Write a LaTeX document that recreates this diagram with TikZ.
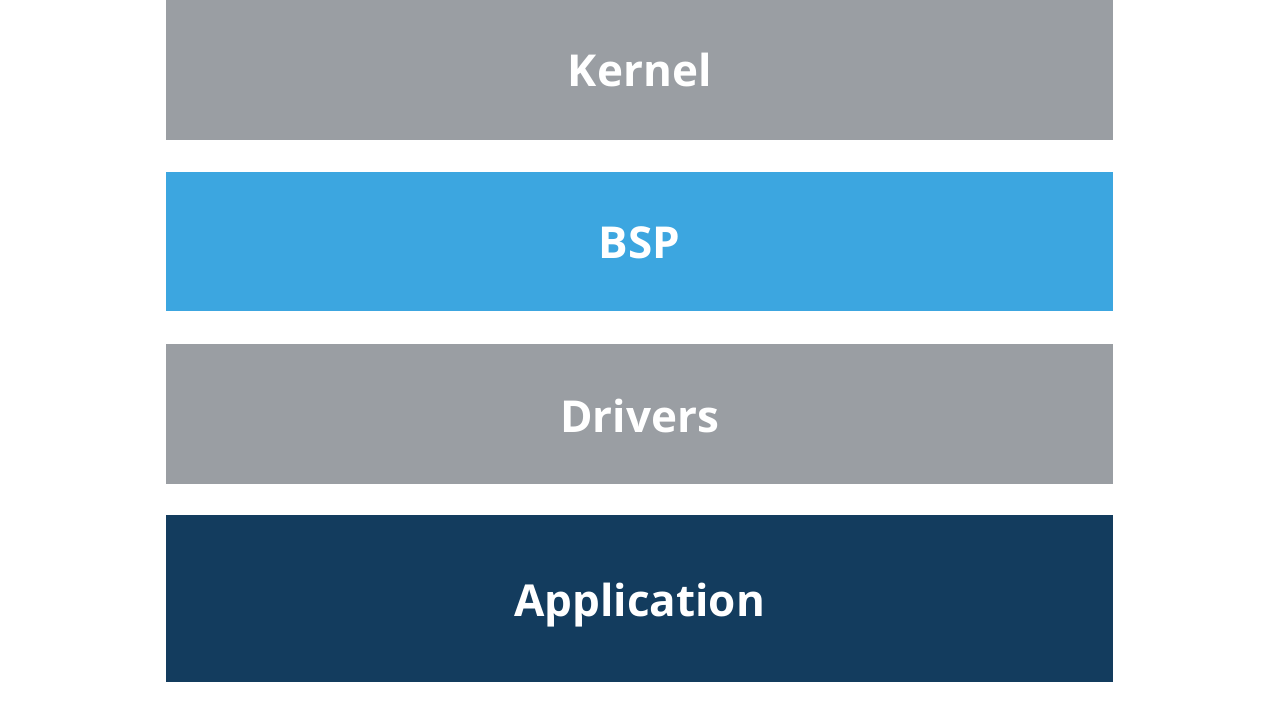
\documentclass[tikz,border=0pt]{standalone}
\usepackage{fontspec}
\setmainfont{Open Sans}
\definecolor{layergray}{HTML}{9A9EA3}
\definecolor{layerblue}{HTML}{3CA6E0}
\definecolor{layernavy}{HTML}{133C5E}
\begin{document}
\begin{tikzpicture}[x=1pt,y=-1pt,
  layer/.style={draw=none,anchor=north west,minimum width=947pt,inner sep=0pt},
  layertext/.style={text=white,inner sep=0pt,font=\bfseries\fontsize{44}{52}\selectfont}]
\useasboundingbox[fill=white] (0,0) rectangle (1280,720);
\node[layer,fill=layergray,minimum height=140pt] (kernel) at (166,0) {};
\node[layer,fill=layerblue,minimum height=139pt] (bsp) at (166,172) {};
\node[layer,fill=layergray,minimum height=140pt] (drivers) at (166,344) {};
\node[layer,fill=layernavy,minimum height=167pt] (app) at (166,515) {};
\node[layertext] (kernellabel) at ([yshift=0pt]kernel.center) {Kernel};
\node[layertext] (bsplabel) at ([yshift=-1pt]bsp.center) {BSP};
\node[layertext] (driverslabel) at ([yshift=-2pt]drivers.center) {Drivers};
\node[layertext] (applabel) at ([yshift=-6pt]app.center) {Application};
\end{tikzpicture}
\end{document}
